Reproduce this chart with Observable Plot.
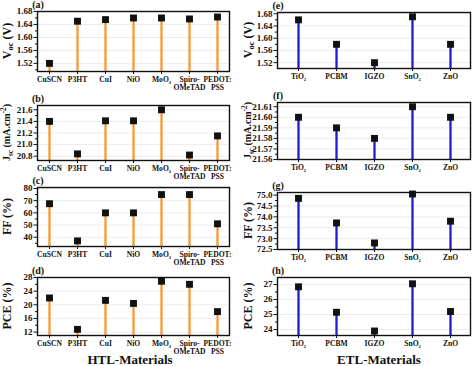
<!DOCTYPE html>
<html><head><meta charset="utf-8">
<script src="https://cdn.jsdelivr.net/npm/d3@7"></script>
<script src="https://cdn.jsdelivr.net/npm/@observablehq/plot@0.6"></script>
<style>
body{margin:0;background:#fff}
#c{position:relative;width:474px;height:366px;overflow:hidden;font-family:"Liberation Serif",serif;font-weight:bold}
#c svg{position:absolute}
#c svg, #c svg text, #c svg tspan{font-family:"Liberation Serif",serif !important;font-weight:bold !important}
.t{position:absolute;font-size:13px;line-height:13px;font-weight:bold;font-family:"Liberation Serif",serif;transform:translateX(-50%);white-space:nowrap;color:#111}
</style></head>
<body><div id="c"></div>
<script>
// ---- data ----
const htl = ["CuSCN","P3HT","CuI","NiO","MoO₃","Spiro-\nOMeTAD","PEDOT:\nPSS"];
const etl = ["TiO₂","PCBM","IGZO","SnO₂","ZnO"];
const vocHTL = [1.52, 1.65, 1.655, 1.66, 1.66, 1.657, 1.663];
const jscHTL = [21.40, 20.84, 21.41, 21.41, 21.60, 20.82, 21.15];
const ffHTL  = [67.5, 37.0, 60.0, 60.0, 75.0, 75.0, 51.0];
const pceHTL = [22.0, 12.8, 21.3, 20.4, 26.9, 26.0, 18.0];
const vocETL = [1.66, 1.58, 1.52, 1.67, 1.58];
const jscETL = [21.60, 21.59, 21.58, 21.61, 21.60];
const ffETL  = [74.85, 73.72, 72.80, 75.05, 73.80];
const pceETL = [26.85, 25.15, 23.90, 27.05, 25.20];
const ticksVoc = [1.52, 1.56, 1.60, 1.64, 1.68];
const ticksJscH = [20.8, 21.0, 21.2, 21.4, 21.6];
const ticksFFH = [40, 50, 60, 70, 80];
const ticksPceH = [12, 16, 20, 24, 28];
const ticksJscE = [21.56, 21.57, 21.58, 21.59, 21.60, 21.61];
const ticksFFE = [72.5, 73.0, 73.5, 74.0, 74.5, 75.0];
const ticksPceE = [24, 25, 26, 27];

const ORANGE = "#f59a36", BLUE = "#1c1cd8";
const c = document.getElementById("c");

function panel(o) {
  const mt = 12, mb = 27;
  const data = o.cats.map((k, i) => ({c: k, v: o.vals[i]}));
  const step = o.ticks[1] - o.ticks[0];
  const minor = [];
  for (let t = o.ticks[0] - step / 2; t <= o.domain[1] + 1e-9; t += step) if (t >= o.domain[0] - 1e-9) minor.push(t);
  const svg = Plot.plot({
    width: o.W, height: o.fh + mt + mb,
    marginLeft: o.ml, marginRight: o.mr, marginTop: mt, marginBottom: mb,
    style: {background: "transparent", fontSize: "8px", overflow: "visible", color: "#111"},
    x: {type: "point", domain: o.cats, padding: o.pad},
    y: {domain: o.domain},
    marks: [
      Plot.gridY(o.ticks, {stroke: "#e4e4e4", strokeOpacity: 1, strokeWidth: 0.7}),
      Plot.ruleX(data, {x: "c", y1: o.domain[0], y2: "v", stroke: o.color, strokeWidth: 2.3}),
      Plot.dot(data, {x: "c", y: "v", symbol: "square", r: 3.9, fill: "#111", stroke: "none"}),
      Plot.frame({stroke: "#111", strokeWidth: 1.4}),
      Plot.axisY(minor, {tickSize: 2, tickFormat: () => "", label: null}),
      Plot.axisY(o.ticks, {tickSize: 3.5, tickPadding: 1.5, tickFormat: o.fmt, label: null, fontSize: "9px"}),
      Plot.axisX({tickSize: 3, tickPadding: 1.5, label: null, lineHeight: 1.1, fontSize: "7.6px"})
    ]
  });
  svg.setAttribute("font-family", "Liberation Serif");
  svg.style.left = o.left + "px";
  svg.style.top = (o.ft - mt) + "px";
  const s = d3.select(svg);
  s.append("text").attr("x", o.ml + 1).attr("y", mt - 3.5)
    .attr("font-size", 10).attr("fill", "#111").text(o.letter);
  const g = s.append("g").attr("transform", `translate(${o.lx},${mt + o.fh / 2}) rotate(-90)`);
  const tx = g.append("text").attr("text-anchor", "middle").attr("dominant-baseline", "middle")
    .attr("font-size", o.lfs).attr("fill", "#111");
  let shift = 0;
  for (const [str, kind] of o.label) {
    const target = kind === 1 ? 3 : kind === 2 ? -4 : 0;
    const ts = tx.append("tspan").attr("dy", target - shift).text(str);
    if (kind) ts.attr("font-size", o.lfs * 0.72);
    shift = target;
  }
  c.appendChild(svg);
}

const L = {left: 0, W: 237, ml: 37, mr: 8, pad: 0.4, color: ORANGE, cats: htl, lx: 8};
const R = {left: 237, W: 237, ml: 40, mr: 4, pad: 0.5, color: BLUE, cats: etl, lx: 12};
const f2 = d3.format(".2f"), f1 = d3.format(".1f"), f0 = d3.format("d");
const lblVoc = [["V",0],["oc",1],[" (V)",0]];
const lblJsc = [["J",0],["sc",1],[" (mA.cm",0],["-2",2],[")",0]];
const lblFF = [["FF (%)",0]];
const lblPCE = [["PCE (%)",0]];

panel({...L, letter: "(a)", ft: 11, fh: 60, vals: vocHTL, domain: [1.495, 1.68], ticks: ticksVoc, fmt: f2, label: lblVoc, lfs: 12});
panel({...L, letter: "(b)", ft: 105, fh: 55, vals: jscHTL, domain: [20.726, 21.674], ticks: ticksJscH, fmt: f1, label: lblJsc, lfs: 10});
panel({...L, letter: "(c)", ft: 187, fh: 59, vals: ffHTL, domain: [32.4, 80.8], ticks: ticksFFH, fmt: f0, label: lblFF, lfs: 12});
panel({...L, letter: "(d)", ft: 277, fh: 58, vals: pceHTL, domain: [11.0, 28], ticks: ticksPceH, fmt: f0, label: lblPCE, lfs: 12});
panel({...R, letter: "(e)", ft: 12, fh: 56, vals: vocETL, domain: [1.501, 1.684], ticks: ticksVoc, fmt: f2, label: lblVoc, lfs: 12});
panel({...R, letter: "(f)", ft: 102, fh: 57, vals: jscETL, domain: [21.56, 21.614], ticks: ticksJscE, fmt: f2, label: lblJsc, lfs: 10});
panel({...R, letter: "(g)", ft: 192, fh: 57, vals: ffETL, domain: [72.5, 75.12], ticks: ticksFFE, fmt: f1, label: lblFF, lfs: 12});
panel({...R, letter: "(h)", ft: 277, fh: 58, vals: pceETL, domain: [23.6, 27.47], ticks: ticksPceE, fmt: f0, label: lblPCE, lfs: 12});

for (const [txt, x] of [["HTL-Materials", 130], ["ETL-Materials", 379]]) {
  const d = document.createElement("div");
  d.className = "t"; d.textContent = txt;
  d.style.left = x + "px"; d.style.top = "353px";
  c.appendChild(d);
}
</script></body></html>
